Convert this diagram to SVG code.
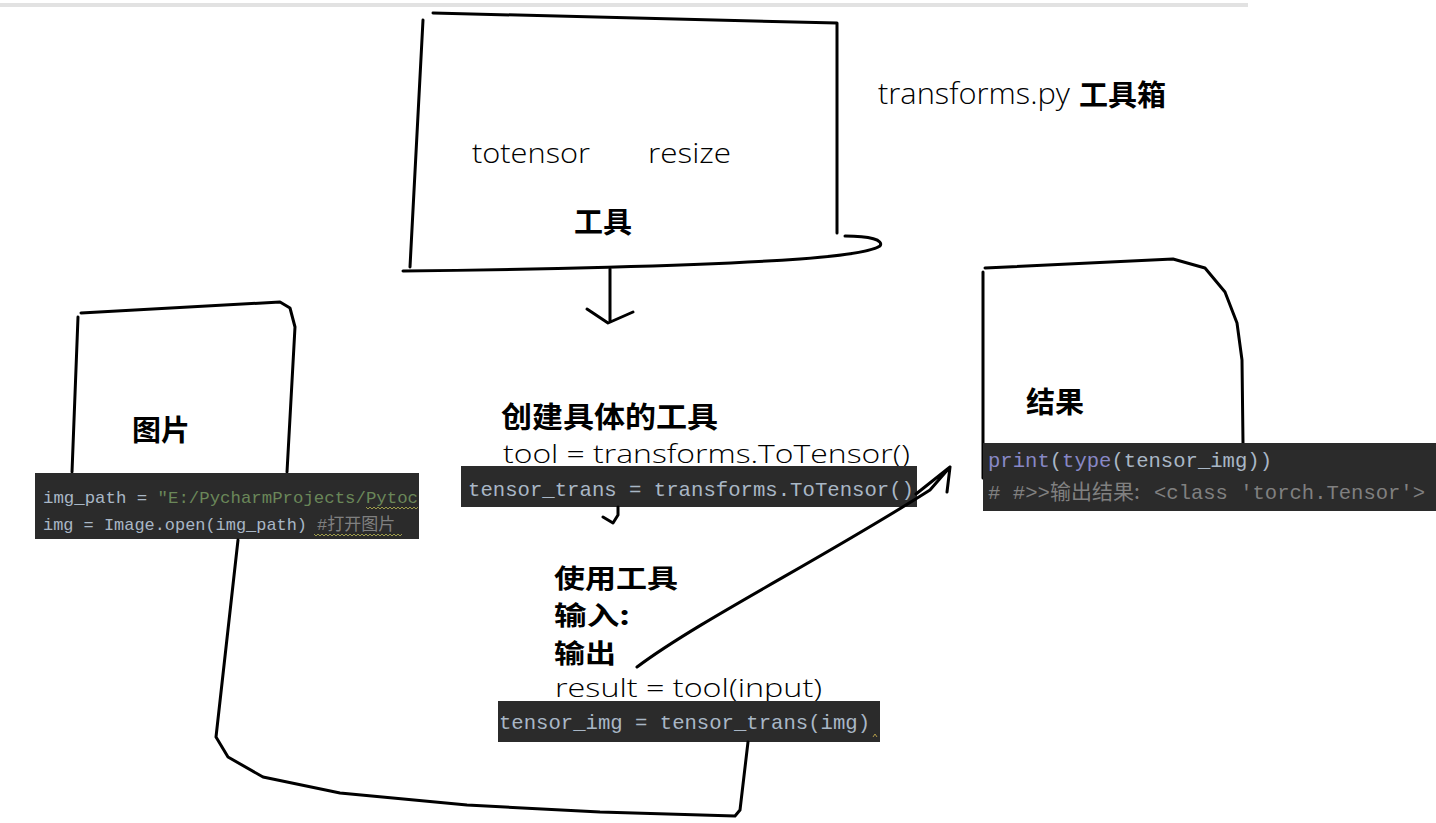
<svg xmlns="http://www.w3.org/2000/svg" width="1436" height="823" viewBox="0 0 1436 823">
<style>
.sk{fill:none;stroke:#000;stroke-width:3;stroke-linecap:round;stroke-linejoin:round}
.hw{font-family:"Open Sans","DejaVu Sans",sans-serif;font-weight:300;fill:#000}
.cjk{font-family:"Noto Sans CJK SC","Noto Sans",sans-serif;font-weight:700;fill:#000}
.cb{fill:#2b2b2b}
.code{font-family:"Liberation Mono","DejaVu Sans Mono","Noto Sans CJK SC",monospace;fill:#a9b7c6}
.str{fill:#6a8759}
.cmt{fill:#808080}
.bi{fill:#8888c6}
.wavy{fill:none;stroke:#9c9a4a;stroke-width:1}
</style>
<rect width="1436" height="823" fill="#fff"/>
<line x1="0" y1="5" x2="1248" y2="5" stroke="#e2e2e2" stroke-width="4"/>

<g id="toolbox">
  <path class="sk" d="M433,13 L837,23 M423,20 L410,267 M837,23 L837,233 M403,271 C520,270 700,266 800,259 C840,256 870,252 880,246 C884,240 870,236 845,236"/>
  <text class="hw" x="472" y="163" font-size="28" textLength="118" lengthAdjust="spacingAndGlyphs">totensor</text>
  <text class="hw" x="648" y="163" font-size="28" textLength="83" lengthAdjust="spacingAndGlyphs">resize</text>
  <text class="cjk" x="574" y="233" font-size="29">工具</text>
</g>

<g id="toolbox-label">
  <text class="hw" x="878" y="104" font-size="30" textLength="192" lengthAdjust="spacingAndGlyphs">transforms.py</text>
  <text class="cjk" x="1079" y="106" font-size="29">工具箱</text>
</g>

<g id="image-node">
  <path class="sk" d="M81,313 L280,302 L290,308 L295,327 L287,472 M78,317 L72,472"/>
  <text class="cjk" x="132" y="441" font-size="29">图片</text>
  <rect class="cb" x="35" y="473" width="384" height="66"/>
  <text class="code" x="43" y="503" font-size="17" textLength="375" lengthAdjust="spacingAndGlyphs">img_path = <tspan class="str">"E:/PycharmProjects/Pytoc</tspan></text>
  <path class="wavy" d="M366,507 l2,2 l2,-2 l2,2 l2,-2 l2,2 l2,-2 l2,2 l2,-2 l2,2 l2,-2 l2,2 l2,-2 l2,2 l2,-2 l2,2 l2,-2 l2,2 l2,-2 l2,2 l2,-2 l2,2 l2,-2 l2,2 l2,-2 l2,2 l2,-2"/>
  <text class="code" x="43" y="530" font-size="17"><tspan textLength="264" lengthAdjust="spacingAndGlyphs">img = Image.open(img_path)</tspan><tspan class="cmt" x="317">#打开图片</tspan></text>
  <path class="wavy" d="M314,534 l2,2 l2,-2 l2,2 l2,-2 l2,2 l2,-2 l2,2 l2,-2 l2,2 l2,-2 l2,2 l2,-2 l2,2 l2,-2 l2,2 l2,-2 l2,2 l2,-2 l2,2 l2,-2 l2,2 l2,-2 l2,2 l2,-2 l2,2 l2,-2 l2,2 l2,-2 l2,2 l2,-2 l2,2 l2,-2 l2,2 l2,-2 l2,2 l2,-2 l2,2 l2,-2 l2,2 l2,-2 l2,2 l2,-2 l2,2 l2,-2"/>
</g>

<g id="result-node">
  <path class="sk" d="M985,268 L1173,259 L1205,268 L1225,292 L1237,323 L1242,360 L1243,443 M983,272 L983,478"/>
  <text class="cjk" x="1026" y="413" font-size="29">结果</text>
  <rect class="cb" x="983" y="443" width="453" height="68"/>
  <text class="code" x="988" y="467" font-size="20.6" textLength="284" lengthAdjust="spacingAndGlyphs"><tspan class="bi">print</tspan>(<tspan class="bi">type</tspan>(tensor_img))</text>
  <text class="code cmt" x="988" y="499" font-size="20.6"><tspan textLength="62" lengthAdjust="spacingAndGlyphs"># #&gt;&gt;</tspan><tspan x="1050" font-family="Noto Sans CJK SC,sans-serif" font-size="21">输出结果:</tspan><tspan x="1154" textLength="271" lengthAdjust="spacingAndGlyphs">&lt;class 'torch.Tensor'&gt;</tspan></text>
</g>

<g id="create-tool">
  <text class="cjk" x="501" y="428" font-size="29" textLength="217" lengthAdjust="spacingAndGlyphs">创建具体的工具</text>
  <text class="hw" x="503" y="463" font-size="26" textLength="407" lengthAdjust="spacingAndGlyphs">tool = transforms.ToTensor()</text>
  <rect class="cb" x="461" y="466" width="456" height="41"/>
  <text class="code" x="468" y="496" font-size="20.6" textLength="446" lengthAdjust="spacingAndGlyphs">tensor_trans = transforms.ToTensor()</text>
</g>

<g id="use-tool">
  <text class="cjk" x="554" y="588" font-size="26" textLength="124" lengthAdjust="spacingAndGlyphs">使用工具</text>
  <text class="cjk" x="554" y="625" font-size="26" textLength="76" lengthAdjust="spacingAndGlyphs">输入:</text>
  <text class="cjk" x="554" y="663" font-size="26" textLength="62" lengthAdjust="spacingAndGlyphs">输出</text>
  <text class="hw" x="555" y="697" font-size="25" textLength="267" lengthAdjust="spacingAndGlyphs">result = tool(input)</text>
  <rect class="cb" x="498" y="701" width="382" height="41"/>
  <text class="code" x="499" y="729" font-size="20.6" textLength="371" lengthAdjust="spacingAndGlyphs">tensor_img = tensor_trans(img)</text>
  <path d="M873,737 l2,-3 l2,3" fill="none" stroke="#b09a4a" stroke-width="1"/>
</g>

<g id="connectors">
  <path class="sk" d="M610,269 L610,322 M587,309 L608,323 L633,312"/>
  <path class="sk" d="M618,507 L618,515 L613,523 L603,517"/>
  <path class="sk" d="M637,667 C700,620 820,560 930,490 L950,467 M916,494 L950,467 L947,492"/>
  <path class="sk" d="M238,540 L216,737 L228,757 L263,777 L340,793 L467,805 L600,812 L735,816 L740,810 L748,742"/>
</g>
</svg>
